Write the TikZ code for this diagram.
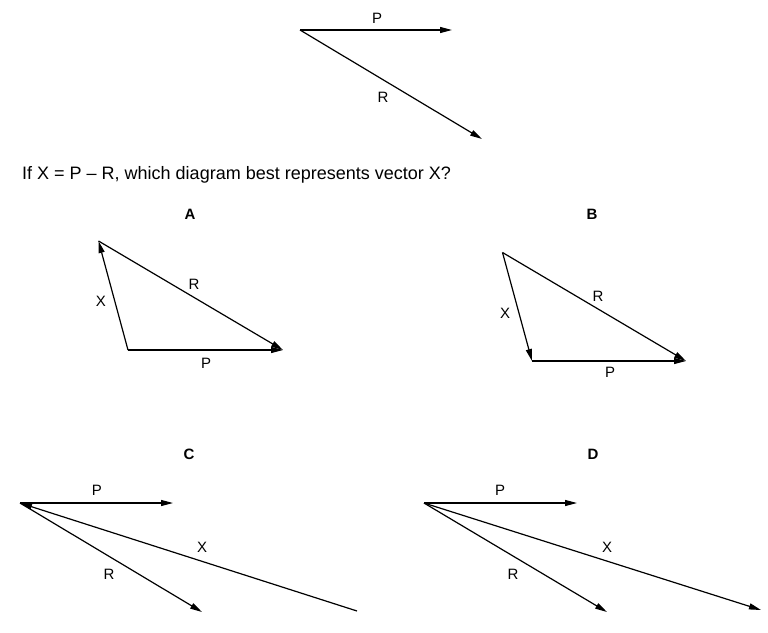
\documentclass[tikz,border=0pt]{standalone}
\usepackage{fontspec}
\setmainfont{Liberation Sans}
\usetikzlibrary{arrows.meta}
\begin{document}
\begin{tikzpicture}[x=1pt,y=-1pt,
  vec/.style={line width=1.2pt,-{Triangle[length=12pt,width=6pt]}},
  lbl/.style={font=\fontsize{15}{18}\selectfont,inner sep=0pt},
  ttl/.style={font=\fontsize{15}{18}\selectfont\bfseries,inner sep=0pt}]
\useasboundingbox (0,0) rectangle (768,632);
% top
\coordinate (o) at (300,30);
\coordinate (pe) at (452,30);
\coordinate (re) at (482,139);
\draw[vec] (o) -- (pe);
\draw[vec] (o) -- (re);
\node[lbl] (lp) at (377,18.5) {P};
\node[lbl] (lr) at (383,97) {R};
\node[font=\fontsize{18}{21}\selectfont,inner sep=0pt,anchor=base west] (q) at (22,179) {If X = P – R, which diagram best represents vector X?};
% A
\node[ttl] (ta) at (190,214) {A};
\coordinate (at) at (98.5,241);
\coordinate (abl) at (128,350);
\coordinate (ar) at (283,350);
\draw[vec] (abl) -- (at);
\draw[vec] (at) -- (ar);
\draw[vec] (abl) -- (ar);
\node[lbl] (ax) at (101,301) {X};
\node[lbl] (arl) at (194,284) {R};
\node[lbl] (ap) at (206,363) {P};
% B
\node[ttl] (tb) at (592,214) {B};
\coordinate (bt) at (502.5,252.5);
\coordinate (bbl) at (532,361);
\coordinate (br) at (686,361);
\draw[vec] (bt) -- (bbl);
\draw[vec] (bt) -- (br);
\draw[vec] (bbl) -- (br);
\node[lbl] (bx) at (505,313) {X};
\node[lbl] (brl) at (598,296) {R};
\node[lbl] (bp) at (610,372) {P};
% C
\node[ttl] (tc) at (189,454) {C};
\coordinate (co) at (20,503);
\coordinate (cp) at (173,503);
\coordinate (cr) at (202,612);
\coordinate (cx) at (357,611);
\draw[vec] (co) -- (cp);
\draw[vec] (co) -- (cr);
\draw[vec] (cx) -- (co);
\node[lbl] (clp) at (97,490) {P};
\node[lbl] (clx) at (202,547) {X};
\node[lbl] (clr) at (109,574) {R};
% D
\node[ttl] (td) at (593,454) {D};
\coordinate (do) at (424,503);
\coordinate (dp) at (577,503);
\coordinate (dr) at (607,612);
\coordinate (dx) at (761,610);
\draw[vec] (do) -- (dp);
\draw[vec] (do) -- (dr);
\draw[vec] (do) -- (dx);
\node[lbl] (dlp) at (500,490) {P};
\node[lbl] (dlx) at (607,547) {X};
\node[lbl] (dlr) at (513,574) {R};
\end{tikzpicture}
\end{document}
